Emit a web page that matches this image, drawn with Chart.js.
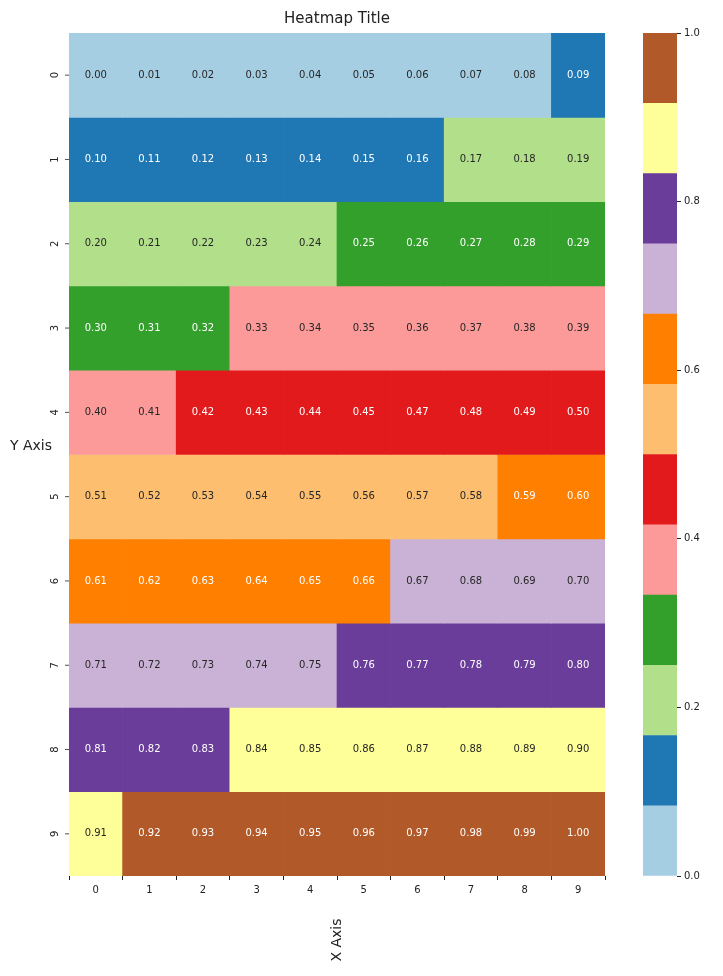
<!DOCTYPE html><html><head><meta charset="utf-8">
<script src="https://cdn.jsdelivr.net/npm/chart.js@4.4.1/dist/chart.umd.min.js"></script>
<style>body{margin:0;background:#fff}#wrap{position:relative;width:723px;height:976px}canvas{position:absolute;top:0}</style>
</head><body><div id="wrap"><div style="position:absolute;left:0;top:0;width:723px;height:976px"><canvas id="c"></canvas></div><div style="position:absolute;left:600px;top:0;width:123px;height:976px"><canvas id="cb"></canvas></div></div>
<script>
const xLabels=['0','1','2','3','4','5','6','7','8','9'];
const yLabels=['0','1','2','3','4','5','6','7','8','9'];
const row0=[0.000,0.010,0.020,0.030,0.040,0.051,0.061,0.071,0.081,0.091];
const row1=[0.101,0.111,0.121,0.131,0.141,0.152,0.162,0.172,0.182,0.192];
const row2=[0.202,0.212,0.222,0.232,0.242,0.253,0.263,0.273,0.283,0.293];
const row3=[0.303,0.313,0.323,0.334,0.343,0.354,0.364,0.374,0.384,0.394];
const row4=[0.404,0.414,0.424,0.434,0.444,0.454,0.465,0.475,0.485,0.495];
const row5=[0.505,0.515,0.525,0.535,0.545,0.556,0.566,0.576,0.586,0.596];
const row6=[0.606,0.616,0.626,0.636,0.646,0.657,0.667,0.677,0.687,0.697];
const row7=[0.707,0.717,0.727,0.737,0.747,0.758,0.768,0.778,0.788,0.798];
const row8=[0.808,0.818,0.828,0.838,0.848,0.859,0.869,0.879,0.889,0.899];
const row9=[0.909,0.919,0.929,0.939,0.949,0.960,0.970,0.980,0.990,1.000];
const rows=[row0,row1,row2,row3,row4,row5,row6,row7,row8,row9];
const colorbarTicks=[0,0.2,0.4,0.6,0.8,1.0];
const palette=['#a6cee3','#1f78b4','#b2df8a','#33a02c','#fb9a99','#e31a1c','#fdbf6f','#ff7f00','#cab2d6','#6a3d9a','#ffff99','#b15928'];
const darkText=[true,false,true,false,true,false,true,false,true,false,true,false];
const bin=v=>Math.min(11,Math.floor(v*12));
const F='"DejaVu Sans", sans-serif';

const datasets=rows.map((r,ri)=>({
  data:r.map(()=>[ri-0.5,ri+0.5]),
  backgroundColor:r.map(v=>palette[bin(v)]),
  barPercentage:1,categoryPercentage:1,borderWidth:0,borderSkipped:false
}));

const deco={id:'deco',afterDatasetsDraw(ch){
  const c=ch.ctx,xs=ch.scales.x,ys=ch.scales.y,a=ch.chartArea;
  c.save();c.textAlign='center';c.textBaseline='middle';c.font='10px '+F;
  rows.forEach((r,ri)=>r.forEach((v,ci)=>{
    c.fillStyle=darkText[bin(v)]?'#262626':'#ffffff';
    c.fillText((Math.round(v*100)/100).toFixed(2),xs.getPixelForValue(ci),ys.getPixelForValue(ri));
  }));
  c.fillStyle='#222';
  yLabels.forEach((l,i)=>{const y=ys.getPixelForValue(i);
    c.strokeStyle='#222';c.lineWidth=0.8;c.beginPath();c.moveTo(a.left,y);c.lineTo(a.left-4,y);c.stroke();
    c.save();c.translate(a.left-14,y);c.rotate(-Math.PI/2);c.fillText(l,0,0);c.restore();});
  c.font='15px '+F;c.fillText('Heatmap Title',(a.left+a.right)/2,19);
  c.font='14px '+F;c.textAlign='left';c.fillText('Y Axis',10,446);
  c.save();c.translate((a.left+a.right)/2,940);c.rotate(-Math.PI/2);c.textAlign='center';c.fillText('X Axis',0,0);c.restore();
  c.restore();
}};

new Chart(document.getElementById('c'),{type:'bar',data:{labels:xLabels,datasets},
 options:{responsive:true,maintainAspectRatio:false,animation:false,events:[],
  layout:{padding:{top:33,right:118,left:0,bottom:0}},
  plugins:{legend:{display:false},tooltip:{enabled:false},title:{display:false}},
  scales:{
   x:{stacked:true,grid:{drawOnChartArea:false,drawTicks:true,tickLength:4,color:'#222'},border:{display:false},
      ticks:{color:'#222',font:{size:10,family:F},padding:4,maxRotation:0},afterFit(s){s.height=100;}},
   y:{type:'linear',min:-0.5,max:9.5,reverse:true,grid:{display:false},border:{display:false},
      ticks:{display:false},afterFit(s){s.width=69;}}
  }},plugins:[deco]});

new Chart(document.getElementById('cb'),{type:'bar',data:{labels:[''],
  datasets:palette.map((p,k)=>({data:[[k/12,(k+1)/12]],backgroundColor:p,barPercentage:1,categoryPercentage:1,borderWidth:0,borderSkipped:false}))},
 options:{responsive:true,maintainAspectRatio:false,animation:false,events:[],
  layout:{padding:{top:33,left:43,right:0,bottom:100}},
  plugins:{legend:{display:false},tooltip:{enabled:false}},
  scales:{x:{display:false,stacked:true},
   y:{position:'right',min:0,max:1,afterBuildTicks(s){s.ticks=colorbarTicks.map(v=>({value:v}));},
      grid:{drawOnChartArea:false,tickLength:4,color:'#222'},border:{display:false},
      ticks:{color:'#222',font:{size:10,family:F},padding:3,callback:v=>v.toFixed(1)},afterFit(s){s.width=46;}}}}});
</script></body></html>
